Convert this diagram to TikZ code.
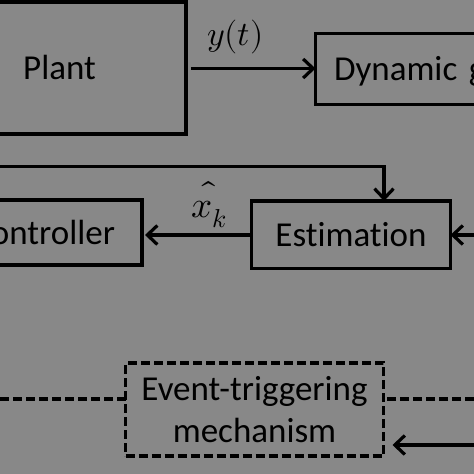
\documentclass[tikz,border=0pt]{standalone}
\usepackage{fontspec}
\usepackage{unicode-math}
\setmainfont[Ligatures=NoCommon]{Carlito}
\setmathfont{Latin Modern Math}
\usetikzlibrary{arrows.meta}
\definecolor{bg}{RGB}{136,136,136}
\definecolor{ink}{RGB}{0,0,0}
\tikzset{
  boxbase/.style={draw=ink, line width=3.2pt, rectangle, outer sep=0pt,
    font=\fontsize{35}{42}\selectfont, text=ink},
  box/.style={boxbase, text height=23pt, text depth=0pt},
  dbox/.style={boxbase, dash pattern=on 9pt off 4pt},
  arr/.style={draw=ink, line width=3.2pt,
    -{Straight Barb[length=10pt, width=19pt, line width=3.2pt]}},
  dline/.style={draw=ink, line width=3.2pt, dash pattern=on 9pt off 4pt},
  mlab/.style={font=\fontsize{34}{40}\selectfont, inner sep=0pt, text=ink}
}
\begin{document}
\begin{tikzpicture}[x=1pt, y=-1pt]
\fill[bg] (0,0) rectangle (474,474);
\useasboundingbox (0,0) rectangle (474,474);
\clip (0,0) rectangle (474,474);

\node[box, minimum width=253pt, minimum height=132pt] (plant) at (59.5,68) {Plant};
\node[box, anchor=west, minimum height=71pt, text width=300pt, align=left,
  inner xsep=18.5pt] (dyn) at (315.5,69) {Dynamic g};
\node[box, anchor=east, minimum height=65pt, text width=250pt, align=right,
  inner xsep=27pt] (ctrl) at (142,232.5) {ontroller};
\node[box, minimum width=199pt, minimum height=67.5pt] (est) at (351,234.75) {Estimation};
\node[dbox, minimum width=258pt, minimum height=93pt, align=center]
  (ev) at (254.5,409.5) {Event-triggering\\mechanism};

% plant -> dynamic
\draw[arr, shorten <=5pt] (plant.east |- 0,68.5) -- (dyn.west |- 0,68.5)
  node[mlab, pos=0.38, anchor=south, yshift=13pt] (ylab) {$y(t)$};

% feedback into estimation
\coordinate (fbL) at (0,166.5);
\coordinate (fbC) at (384,166.5);
\draw[arr] (fbL) -- (fbC) -- (fbC |- est.north);

% estimation -> controller
\draw[arr, shorten >=3pt] (est.west |- 0,235) -- (ctrl.east |- 0,235)
  node[mlab, font=\fontsize{37}{42}\selectfont, pos=0.39, anchor=south, yshift=6pt] (xlab) {$\hat{\vphantom{b}x_k}$};

% right input into estimation
\coordinate (inE) at (474,235);
\draw[arr] (inE) -- (inE -| est.east);

% event-triggering connections
\coordinate (evL) at (0,399);
\coordinate (evR) at (474,399);
\coordinate (inR) at (474,445);
\draw[dline] (evL) -- (evL -| ev.west);
\draw[dline] (evR) -- (evR -| ev.east);
\draw[arr, shorten >=9pt] (inR) -- (inR -| ev.east);
\end{tikzpicture}
\end{document}
